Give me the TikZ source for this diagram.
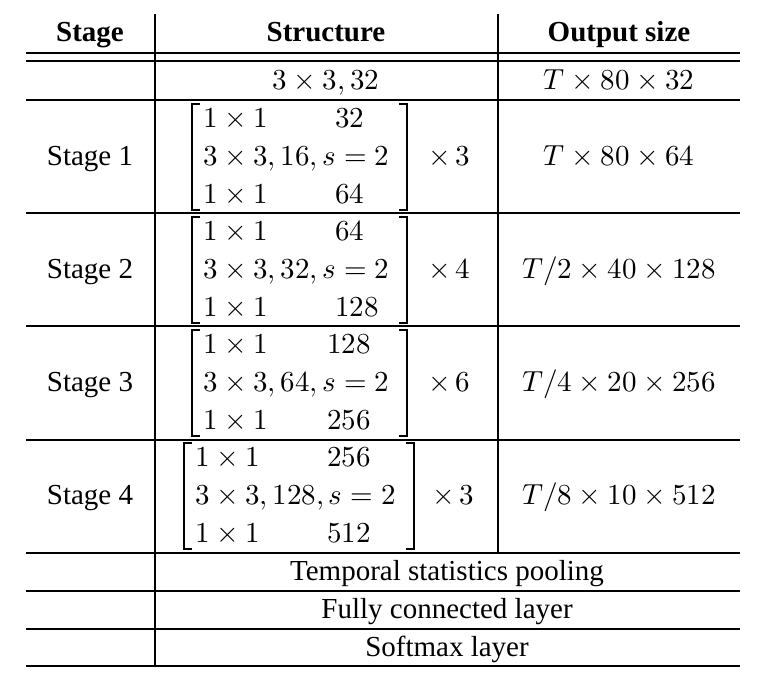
\documentclass[tikz,border=0pt]{standalone}
\usepackage{unicode-math}
\setmainfont{Liberation Serif}
\setmathfont{Latin Modern Math}
\begin{document}
\begin{tikzpicture}[x=1pt,y=-1pt,
  txt/.style={inner sep=0pt,font=\fontsize{29}{33}\selectfont},
  rule/.style={line width=1.2pt},
  brk/.style={line width=1.8pt}]
\useasboundingbox (0,0) rectangle (778,696);
% rules
\foreach \y in {53,61,100,213,326,440,553,591,629,666}
  \draw[rule] (26,\y) -- (740,\y);
\draw[rule] (155,14) -- (155,666);
\draw[rule] (498,14) -- (498,553);
% header
\node[txt,anchor=base,font=\fontsize{29}{33}\selectfont\bfseries] (h1) at (90,41) {Stage};
\node[txt,anchor=base,font=\fontsize{29}{33}\selectfont\bfseries] (h2) at (326,41) {Structure};
\node[txt,anchor=base,font=\fontsize{29}{33}\selectfont\bfseries] (h3) at (619,41) {Output size};
% first row
\node[txt,anchor=base] (r0) at (326,89) {$3\times3,32$};
\node[txt,anchor=base] (o0) at (619,89) {$T\times80\times32$};
% stages
\foreach \i/\c/\lb/\rb/\tx/\nx/\a/\m/\b/\rep/\rx/\out in {
 1/156/192/407/203/335/32/16/64/3/428/{T\times80\times64},
 2/269/192/407/203/335/64/32/128/4/428/{T/2\times40\times128},
 3/382/192/407/203/327/128/64/256/6/428/{T/4\times20\times256},
 4/495/184/414/195/327/256/128/512/3/432/{T/8\times10\times512}}{
  \node[txt,anchor=base] (s\i) at (90,\c+9) {Stage \i};
  \draw[brk] (\lb+8,\c-52) -- (\lb,\c-52) -- (\lb,\c+54) -- (\lb+8,\c+54);
  \draw[brk] (\rb-8,\c-52) -- (\rb,\c-52) -- (\rb,\c+54) -- (\rb-8,\c+54);
  \node[txt,anchor=base west] (a\i) at (\tx,\c-29) {$1\times1$};
  \node[txt,anchor=base west] (an\i) at (\nx,\c-29) {$\a$};
  \node[txt,anchor=base west] (m\i) at (\tx,\c+9) {$3\times3,\m,s=2$};
  \node[txt,anchor=base west] (b\i) at (\tx,\c+47) {$1\times1$};
  \node[txt,anchor=base west] (bn\i) at (\nx,\c+47) {$\b$};
  \node[txt,anchor=base west] (x\i) at (\rx,\c+9) {$\times\,\rep$};
  \node[txt,anchor=base] (o\i) at (619,\c+9) {$\out$};
}
\node[txt,anchor=base] (p1) at (447,580) {Temporal statistics pooling};
\node[txt,anchor=base] (p2) at (447,618) {Fully connected layer};
\node[txt,anchor=base] (p3) at (447,656) {Softmax layer};
\end{tikzpicture}
\end{document}
